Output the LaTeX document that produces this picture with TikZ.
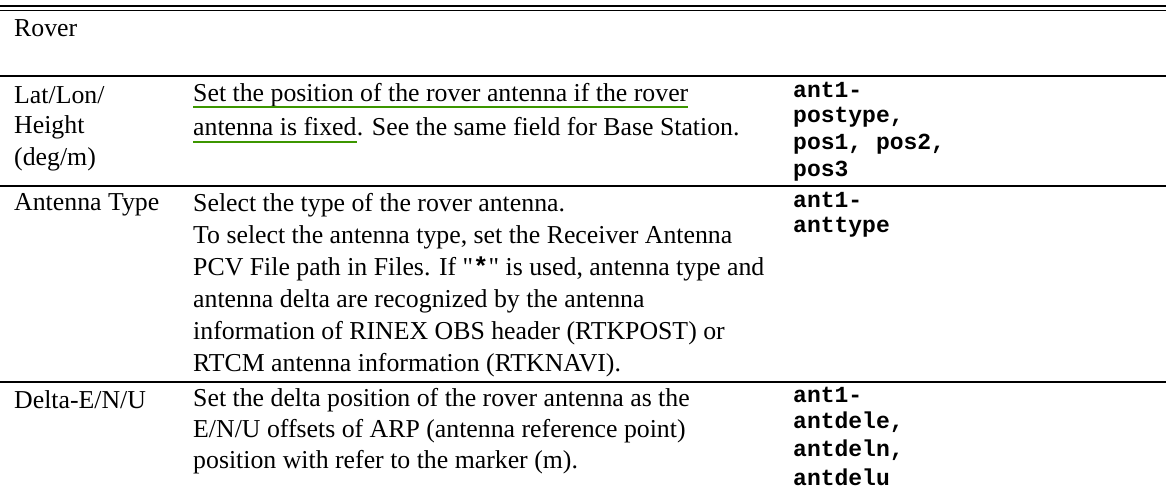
\documentclass[tikz,border=0pt]{standalone}
\usepackage{fontspec}
\setmainfont{Liberation Serif}
\setmonofont{Liberation Mono}
\newfontfamily\plainq{Liberation Serif}
\begin{document}
\begin{tikzpicture}[x=1pt,y=-1pt,
  txt/.style={anchor=west,inner sep=0pt,font=\fontsize{25.8}{28}\selectfont},
  mono/.style={anchor=west,inner sep=0pt,font=\fontsize{23}{26}\selectfont\ttfamily\bfseries},
  rule/.style={line width=2pt},
  uline/.style={draw={rgb,255:red,60;green,150;blue,0},line width=2pt}]
\useasboundingbox (0,0) rectangle (1166,491);
\draw[line width=1.8pt] (0,6) -- (1166,6);
\draw[line width=1.8pt] (0,10.5) -- (1166,10.5);
\draw[rule] (0,76) -- (1166,76);
\draw[rule] (0,185.5) -- (1166,185.5);
\draw[rule] (0,381.5) -- (1166,381.5);
\node[txt] (rover) at (14,28) {Rover};
% row 1
\node[txt] (a1) at (14,95) {Lat/Lon/};
\node[txt] (a2) at (14,127) {Height};
\node[txt] (a3) at (14,159) {(deg/m)};
\node[txt] (b1) at (193,95) {Set the position of the rover antenna if the rover};
\node[txt] (b2) at (193,127) {antenna is fixed};
\node[anchor=base west,inner sep=0pt,font=\fontsize{25.8}{28}\selectfont] (b2b) at (b2.base east) {. See the same field for Base Station.};
\draw[uline] ([yshift=-6pt]b1.base west) -- ([yshift=-6pt]b1.base east);
\draw[uline] ([yshift=-6pt]b2.base west) -- ([yshift=-6pt]b2.base east);
\node[mono] (c1) at (793,90) {ant1-};
\node[mono] (c2) at (793,117) {postype,};
\node[mono] (c3) at (793,144) {pos1, pos2,};
\node[mono] (c4) at (793,171) {pos3};
% row 2
\node[txt] (d1) at (14,205) {Antenna Type};
\node[txt] (e1) at (193,205) {Select the type of the rover antenna.};
\node[txt] (e2) at (193,237) {To select the antenna type, set the Receiver Antenna};
\node[txt] (e3) at (193,269) {PCV File path in Files. If {\plainq"}\texttt{\textbf{*}}{\plainq"} is used, antenna type and};
\node[txt] (e4) at (193,301) {antenna delta are recognized by the antenna};
\node[txt] (e5) at (193,333) {information of RINEX OBS header (RTKPOST) or};
\node[txt] (e6) at (193,365) {RTCM antenna information (RTKNAVI).};
\node[mono] (f1) at (793,200) {ant1-};
\node[mono] (f2) at (793,227) {anttype};
% row 3
\node[txt] (g1) at (14,400) {Delta-E/N/U};
\node[txt] (h1) at (193,400) {Set the delta position of the rover antenna as the};
\node[txt] (h2) at (193,431) {E/N/U offsets of ARP (antenna reference point)};
\node[txt] (h3) at (193,462) {position with refer to the marker (m).};
\node[mono] (k1) at (793,395) {ant1-};
\node[mono] (k2) at (793,422) {antdele,};
\node[mono] (k3) at (793,450) {antdeln,};
\node[mono] (k4) at (793,477) {antdelu};
\end{tikzpicture}
\end{document}
